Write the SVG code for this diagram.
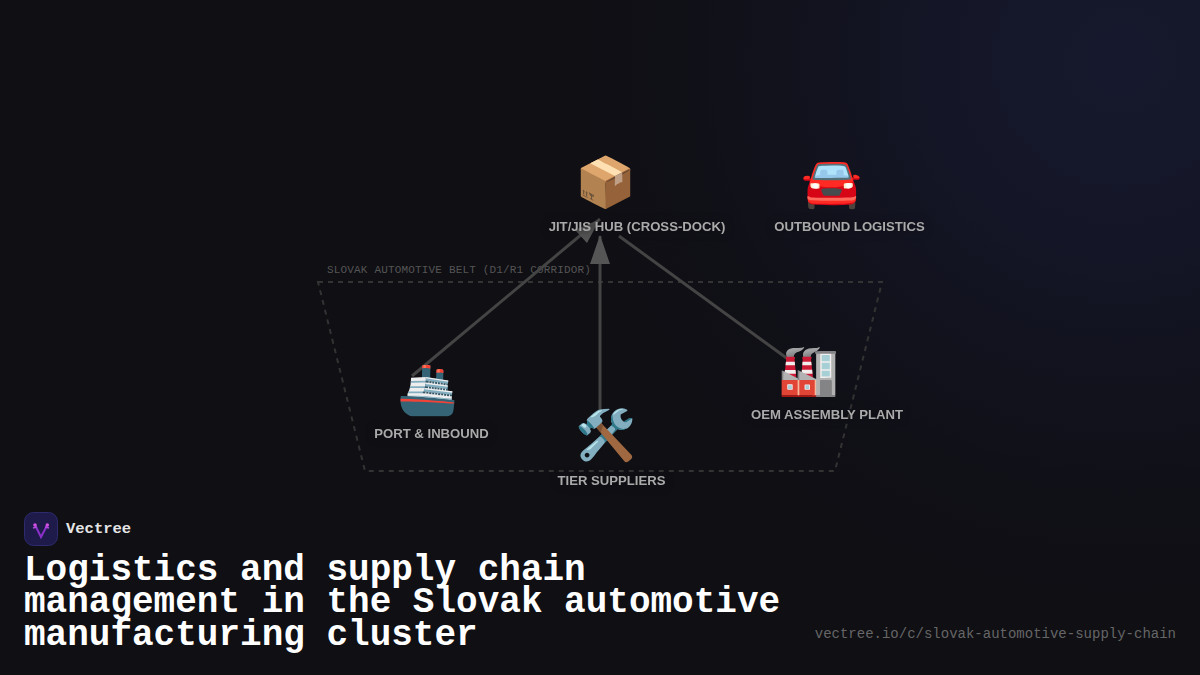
<svg xmlns="http://www.w3.org/2000/svg" width="1200" height="675" viewBox="0 0 1200 675">
<defs>
<radialGradient id="glow" gradientUnits="userSpaceOnUse" cx="1120" cy="60" r="600">
<stop offset="0" stop-color="#16182d" stop-opacity="1"/>
<stop offset="0.3" stop-color="#15172a" stop-opacity="0.9"/>
<stop offset="0.65" stop-color="#12131f" stop-opacity="0.5"/>
<stop offset="1" stop-color="#0f0f14" stop-opacity="0"/>
</radialGradient>
<style>
.lbl{font-family:"Liberation Sans",Arial,sans-serif;font-size:13.150px;font-weight:700;fill:#aaa;text-anchor:middle;filter:drop-shadow(0 0 4px rgba(10,10,15,.9))}
.emo{font-family:"Noto Color Emoji",sans-serif;font-size:49px;text-anchor:middle}
.conn{stroke:#444;stroke-width:3;fill:none}
.title{font-family:"Liberation Mono",monospace;font-size:36px;font-weight:700;fill:#fff}
</style>
</defs>
<rect width="1200" height="675" fill="#0f0f14"/>
<rect width="1200" height="675" fill="url(#glow)"/>
<g id="zone">
<path d="M318 282H882L835 471H365Z" fill="none" stroke="#333" stroke-width="2" stroke-dasharray="5 5"/>
<text x="327" y="273" font-family="Liberation Mono,monospace" font-size="11" letter-spacing="0.17" fill="#555">SLOVAK AUTOMOTIVE BELT (D1/R1 CORRIDOR)</text>
</g>
<g id="connectors">
<path class="conn" d="M412 376L600 219"/>
<path class="conn" d="M600 411V236"/>
<path class="conn" d="M619 236L792 362"/>
<path d="M600 219L587 243L575 230Z" fill="#555"/>
<path d="M600 235L610 264H590Z" fill="#555"/>
</g>
<g id="node-hub"><text class="emo" x="605.500" y="198.500">📦</text><text class="lbl" x="637" y="231">JIT/JIS HUB (CROSS-DOCK)</text></g>
<g id="node-outbound"><text class="emo" x="831.500" y="198.500">🚘</text><text class="lbl" x="849.500" y="231">OUTBOUND LOGISTICS</text></g>
<g id="node-port"><text class="emo" x="427.500" y="405.500">🚢</text><text class="lbl" x="431.500" y="438">PORT &amp; INBOUND</text></g>
<g id="node-tier"><text class="emo" x="605.500" y="452">🛠️</text><text class="lbl" x="611.500" y="485">TIER SUPPLIERS</text></g>
<g id="node-oem"><text class="emo" x="808.500" y="387">🏭</text><text class="lbl" x="827" y="419">OEM ASSEMBLY PLANT</text></g>
<g id="brand">
<rect x="24.500" y="512.500" width="33" height="33" rx="9" fill="#1e1b4b" stroke="#2d2a6e"/>
<path d="M35 525L41 537L47.300 525" fill="none" stroke="#8b2fc9" stroke-width="2"/>
<path d="M33 528L37 527M49 528L45 527" stroke="#b44ae0" stroke-width="1.500"/>
<circle cx="35" cy="525" r="1.800" fill="#d050e0"/><circle cx="47.300" cy="525" r="1.800" fill="#d050e0"/>
<text x="66" y="533" font-family="Liberation Mono,monospace" font-size="15.500" font-weight="700" fill="#e5e5e5">Vectree</text>
</g>
<g id="title">
<text class="title" x="24" y="580">Logistics and supply chain</text>
<text class="title" x="24" y="612">management in the Slovak automotive</text>
<text class="title" x="24" y="645">manufacturing cluster</text>
</g>
<text x="1176" y="638" text-anchor="end" font-family="Liberation Mono,monospace" font-size="14" fill="#666">vectree.io/c/slovak-automotive-supply-chain</text>
</svg>
